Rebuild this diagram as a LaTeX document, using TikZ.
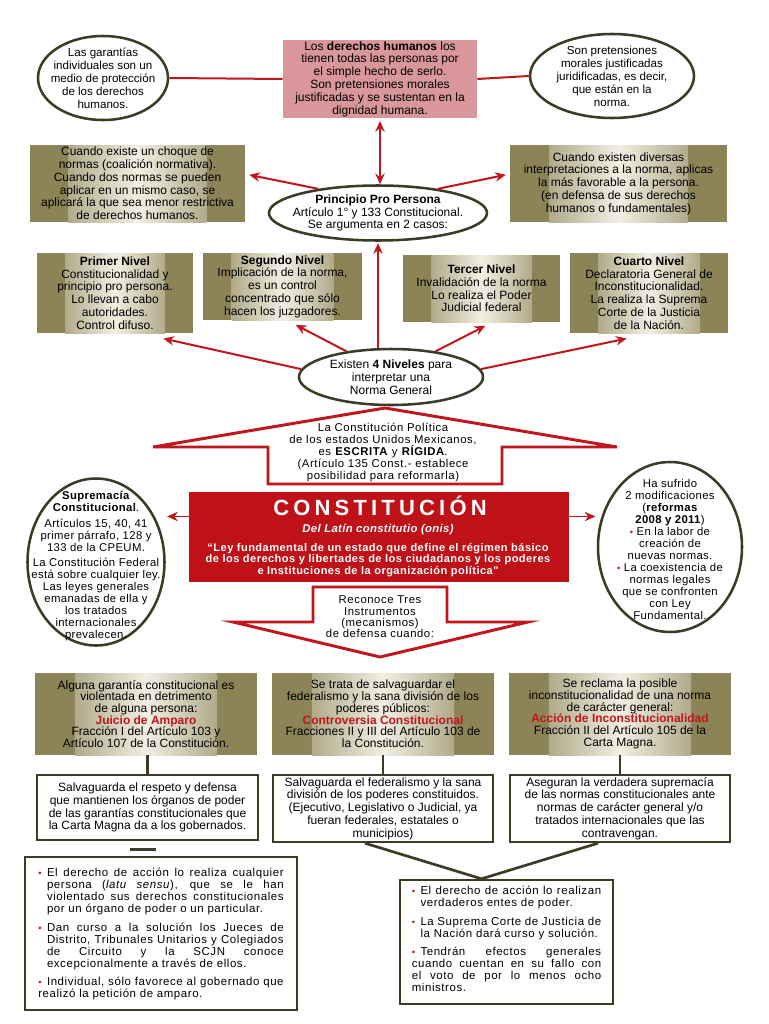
\documentclass[tikz,border=0pt]{standalone}
\usepackage{fontspec}
\setmainfont{Liberation Sans}
\newfontfamily\lsA[LetterSpace=3]{Liberation Sans}
\newfontfamily\lsB[LetterSpace=5]{Liberation Sans}
\newfontfamily\lsC[LetterSpace=4]{Liberation Sans}
\newfontfamily\lsT[LetterSpace=19]{Liberation Sans}
\usetikzlibrary{shapes.geometric,arrows.meta,calc}
\definecolor{olv}{HTML}{8C8457}
\definecolor{olvl}{HTML}{F1EFE3}
\definecolor{rd}{HTML}{C0161C}
\definecolor{conred}{HTML}{BE1118}
\definecolor{pnk}{HTML}{D9979B}
\definecolor{dk}{HTML}{3D3A25}
\newcommand{\mybul}{{\color{rd}\fontsize{7}{7}\selectfont •}}
\newcommand{\pbul}{\noindent\hangindent=6.5pt\hangafter=1\makebox[6.5pt][l]{\mybul}}
\tikzset{
  sz/.style 2 args={minimum width=#1*0.75pt, minimum height=#2*0.75pt},
  ell/.style={ellipse, draw=dk, line width=1.9pt, fill=white, inner sep=0pt},
  olbox/.style={rectangle, inner sep=0pt, fill=olv,
    path picture={\shade[left color=olv, right color=olv, middle color=olvl]
      ($(path picture bounding box.south west)!0.18!(path picture bounding box.south east)$) rectangle
      ($(path picture bounding box.north west)!0.82!(path picture bounding box.north east)$);}},
  wbox/.style={rectangle, draw=dk, line width=1.8pt, fill=white, inner sep=0pt},
  txt/.style={align=center, inner sep=0pt, font=\fontsize{9}{9.6}\selectfont},
  etop/.style={align=center, inner sep=0pt, font=\fontsize{8.7}{9.8}\selectfont},
  btxt/.style={align=center, inner sep=0pt, font=\fontsize{9}{8.8}\selectfont},
  etxt/.style={align=center, inner sep=0pt, font=\lsA\fontsize{8.5}{9}\selectfont},
  ctxt/.style={align=center, inner sep=0pt, font=\lsB\fontsize{8.5}{9}\selectfont},
  ptxt/.style={align=justify, inner sep=0pt, font=\lsB\fontsize{8.6}{9}\selectfont,
    execute at begin node={\setlength{\parskip}{5pt}\hyphenpenalty=10000}},
  arr/.style={draw=rd, line width=1.5pt, -{Stealth[length=8pt,width=7pt]}, shorten >=1pt},
  darr/.style={draw=rd, line width=1.5pt, {Stealth[length=8pt,width=7pt]}-{Stealth[length=8pt,width=7pt]}},
  rline/.style={draw=rd, line width=1.5pt},
  dline/.style={draw=dk, line width=2pt},
  bigarr/.style={draw=rd, line width=2.2pt, fill=white, line join=miter},
}
\begin{document}
\begin{tikzpicture}[x=0.75pt,y=-0.75pt]
\useasboundingbox (0,0) rectangle (768,1024);
\fill[white] (0,0) rectangle (768,1024);

% ---- top row
\node[ell, sz={130}{84}] (gar) at (103,78) {};
\node[etop] (garT) at (gar) {Las garantías\\individuales son un\\medio de protección\\de los derechos\\humanos.};
\node[txt, fill=pnk, sz={194}{78}] (dh) at (380,79) {Los \textbf{derechos humanos} los\\tienen todas las personas por\\el simple hecho de serlo.\\Son pretensiones morales\\justificadas y se sustentan en la\\dignidad humana.};
\node[ell, sz={164}{84}] (pret) at (612,76) {};
\node[etop] (pretT) at (pret) {Son pretensiones\\morales justificadas\\juridificadas, es decir,\\que están en la\\norma.};
\draw[rline] (gar.east) -- (dh.west);
\draw[rline] (dh.east) -- (pret.west);

% ---- principio pro persona
\node[olbox, txt, sz={215}{77}] (cho) at (137.5,183.5) {Cuando existe un choque de\\normas (coalición normativa).\\Cuando dos normas se pueden\\aplicar en un mismo caso, se\\aplicará la que sea menor restrictiva\\de derechos humanos.};
\node[olbox, txt, sz={217}{77}] (fav) at (618.5,183.5) {Cuando existen diversas\\interpretaciones a la norma, aplicas\\la más favorable a la persona.\\(en defensa de sus derechos\\humanos o fundamentales)};
\node[ell, sz={218}{55}] (ppp) at (378,213) {};
\node[txt] (pppT) at (ppp) {\textbf{Principio Pro Persona}\\Artículo 1° y 133 Constitucional.\\Se argumenta en 2 casos:};
\draw[darr] (dh.south |- ppp.north) -- ([yshift=-2pt]dh.south);
\draw[arr, shorten >=3pt] (ppp.158) -- (cho.5);
\draw[arr, shorten >=3pt] (ppp.22) -- (fav.175);

% ---- niveles
\node[olbox, txt, sz={156}{80}] (n1) at (115,293) {\textbf{Primer Nivel}\\Constitucionalidad y\\principio pro persona.\\Lo llevan a cabo\\autoridades.\\Control difuso.};
\node[olbox, txt, sz={159}{67}] (n2) at (282.5,286.5) {\textbf{Segundo Nivel}\\Implicación de la norma,\\es un control\\concentrado que sólo\\hacen los juzgadores.};
\node[olbox, txt, sz={157}{67}] (n3) at (481.5,288.5) {\textbf{Tercer Nivel}\\Invalidación de la norma\\Lo realiza el Poder\\Judicial federal};
\node[olbox, txt, sz={158}{80}] (n4) at (649,293) {\textbf{Cuarto Nivel}\\Declaratoria General de\\Inconstitucionalidad.\\La realiza la Suprema\\Corte de la Justicia\\de la Nación.};
\node[ell, sz={184}{56}] (niv) at (391,377) {};
\node[txt] (nivT) at (niv) {Existen \textbf{4 Niveles} para\\interpretar una\\Norma General};
\coordinate (t1) at ($(n1.south)+(47,5)$);
\coordinate (t2) at ($(n2.south)+(12,4)$);
\coordinate (t4) at ($(n3.south)+(5,3)$);
\coordinate (t5) at ($(n4.south)+(-21,5)$);
\draw[arr] (niv.175) -- (t1);
\draw[arr] (niv.150) -- (t2);
\draw[arr] (ppp.south |- niv.north) -- (ppp.south);
\draw[arr] (niv.30) -- (t4);
\draw[arr] (niv.5) -- (t5);

% ---- big up arrow
\draw[bigarr] (153,447) -- (385,408) -- (617,447) -- (502,447) -- (502,484) -- (268,484) -- (268,447) -- cycle;
\node[ctxt] (upT) at (383,452) {La Constitución Política\\de los estados Unidos Mexicanos,\\es \textbf{ESCRITA} y \textbf{RÍGIDA}.\\(Artículo 135 Const.- establece\\posibilidad para reformarla)};

% ---- constitucion
\node[fill=conred, sz={380}{90}, inner sep=0pt] (con) at (379,536.5) {};
\node[text=white, inner sep=0pt, anchor=base, font=\lsT\bfseries\fontsize{16.5}{18}\selectfont] (conT) at (380,515.5) {CONSTITUCIÓN};
\node[text=white, inner sep=0pt, font=\lsA\bfseries\itshape\fontsize{8.5}{9}\selectfont] (conS) at (378,530) {Del Latín constitutio (onis)};
\node[text=white, align=center, inner sep=0pt, font=\lsC\bfseries\fontsize{8.3}{8.6}\selectfont] (conQ) at (378,560) {“Ley fundamental de un estado que define el régimen básico\\de los derechos y libertades de los ciudadanos y los poderes\\e Instituciones de la organización política"};

\node[ell, sz={137}{167}] (sup) at (96,562) {};
\node[etxt] (supT) at (96,566) {\textbf{Supremacía}\\\textbf{Constitucional}.\\[3pt]Artículos 15, 40, 41\\primer párrafo, 128 y\\133 de la CPEUM.\\[2pt]La Constitución Federal\\está sobre cualquier ley.\\Las leyes generales\\emanadas de ella y\\los tratados\\internacionales\\prevalecen.};
\node[ell, sz={144}{170}] (mod) at (670,547) {};
\node[etxt] (modT) at (670,549) {Ha sufrido\\2 modificaciones\\(\textbf{reformas}\\\textbf{2008 y 2011})\\\mybul{} En la labor de\\creación de\\nuevas normas.\\\mybul{} La coexistencia de\\normas legales\\que se confronten\\con Ley\\Fundamental.};
\draw[arr, line width=1.2pt] (con.174) -- (con.174 -| sup.east);
\draw[arr, line width=1.2pt] (con.6) -- (con.6 -| mod.west);

% ---- down arrow
\draw[bigarr] (313,587) -- (447,587) -- (447,622) -- (528,622) -- (380,657) -- (233,622) -- (313,622) -- cycle;
\node[ctxt, font=\lsB\fontsize{8.5}{8.5}\selectfont] (dnT) at (380,617) {Reconoce Tres\\Instrumentos\\(mecanismos)\\de defensa cuando:};

% ---- three instruments
\node[olbox, btxt, sz={222}{82}] (b1) at (146,714) {Alguna garantía constitucional es\\violentada en detrimento\\de alguna persona:\\\textcolor{rd}{\textbf{Juicio de Amparo}}\\Fracción I del Artículo 103 y\\Artículo 107 de la Constitución.};
\node[olbox, btxt, sz={222}{82}] (b2) at (383,714) {Se trata de salvaguardar el\\federalismo y la sana división de los\\poderes públicos:\\\textcolor{rd}{\textbf{Controversia Constitucional}}\\Fracciones II y III del Artículo 103 de\\la Constitución.};
\node[olbox, btxt, sz={222}{82}] (b3) at (620,714) {Se reclama la posible\\inconstitucionalidad de una norma\\de carácter general:\\\textcolor{rd}{\textbf{Acción de Inconstitucionalidad}}\\Fracción II del Artículo 105 de la\\Carta Magna.};

\node[wbox, txt, sz={221}{65}] (w1) at (147.5,807.5) {Salvaguarda el respeto y defensa\\que mantienen los órganos de poder\\de las garantías constitucionales que\\la Carta Magna da a los gobernados.};
\node[wbox, txt, sz={220}{67}] (w2) at (383,808.5) {Salvaguarda el federalismo y la sana\\división de los poderes constituidos.\\(Ejecutivo, Legislativo o Judicial, ya\\fueran federales, estatales o\\municipios)};
\node[wbox, txt, sz={220}{67}] (w3) at (620,808.5) {Aseguran la verdadera supremacía\\de las normas constitucionales ante\\normas de carácter general y/o\\tratados internacionales que las\\contravengan.};
\draw[dline] (b1.south -| w1.north) -- (w1.north);
\draw[dline] (b2.south) -- (w2.north);
\draw[dline] (b3.south) -- (w3.north);

% ---- bottom boxes
\node[wbox, sz={272}{153}] (bl) at (161,933.5) {};
\node[ptxt, text width=184pt] (blT) at (161,934) {\pbul El derecho de acción lo realiza cualquier\linebreak persona (\textit{latu sensu}), que se le han\linebreak violentado sus derechos constitucionales\linebreak por un órgano de poder o un particular.\par
\pbul Dan curso a la solución los Jueces de\linebreak Distrito, Tribunales Unitarios y Colegiados\linebreak de Circuito y la SCJN conoce\linebreak excepcionalmente a través de ellos.\par
\pbul Individual, sólo favorece al gobernado que\linebreak realizó la petición de amparo.};
\node[wbox, sz={213}{124}] (br) at (506.5,942) {};
\node[ptxt, text width=142pt] (brT) at (506.5,939) {\pbul El derecho de acción lo realizan\linebreak verdaderos entes de poder.\par
\pbul La Suprema Corte de Justicia de\linebreak la Nación dará curso y solución.\par
\pbul Tendrán efectos generales\linebreak cuando cuentan en su fallo con\linebreak el voto de por lo menos ocho\linebreak ministros.};

\coordinate (apex) at ($(br.north)+(-25,0)$);
\coordinate (c2) at ($(w2.south)+(-18,0)$);
\coordinate (c3) at ($(w3.south)+(-22,0)$);
\draw[dline, line join=miter] (c2) -- (apex) -- (c3);
\coordinate (d1) at ($(bl.north)+(-31,-6)$);
\coordinate (d2) at ($(bl.north)+(-5,-6)$);
\draw[dline, line width=2.5pt] (d1) -- (d2);
\end{tikzpicture}
\end{document}
